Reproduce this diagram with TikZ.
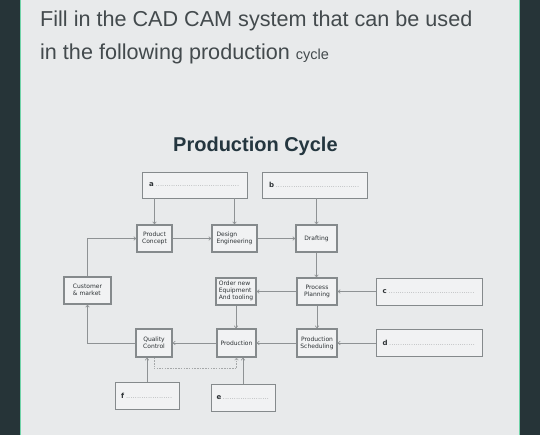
\documentclass[tikz,border=0pt]{standalone}
\usepackage{fontspec}
\setmainfont{Liberation Sans}
\newfontfamily\boxfont{DejaVu Sans}
\usetikzlibrary{arrows.meta}
\definecolor{bg}{HTML}{E8EAEB}
\definecolor{darkside}{HTML}{263438}
\definecolor{mint}{HTML}{6FD3A8}
\definecolor{titlegray}{HTML}{434A4D}
\definecolor{headcol}{HTML}{24363F}
\definecolor{linecol}{HTML}{8E9294}
\definecolor{boxcol}{HTML}{858A8C}
\definecolor{boxtext}{HTML}{2E3336}
\tikzset{
  stagebox/.style={draw=boxcol, line width=1.2pt, fill=bg!60!white, inner sep=0pt,
    font=\boxfont\fontsize{6}{7}\selectfont, text=boxtext, align=center},
  blankbox/.style={draw=boxcol, line width=0.9pt, fill=bg!60!white, inner sep=0pt,
    font=\boxfont\fontsize{6}{7}\selectfont, text=boxtext},
  conn/.style={draw=linecol, line width=0.8pt, -{Straight Barb[length=2.2pt,width=3.6pt,line width=0.6pt]}},
  dashconn/.style={draw=linecol!80, line width=0.6pt, dashed, dash pattern=on 1.5pt off 1.2pt,
    -{Straight Barb[length=2.2pt,width=3.6pt,line width=0.6pt]}}
}
\newcommand{\blank}[2]{\makebox[#1pt][l]{{\fontsize{7}{8}\selectfont\textbf{#2}}\,{\fontsize{5}{6}\selectfont\color{boxtext!70}\dotfill}}}
\begin{document}
\begin{tikzpicture}[x=1pt,y=-1pt]
\useasboundingbox (0,0) rectangle (540,435);
\fill[bg] (0,0) rectangle (540,435);
\fill[darkside] (0,0) rectangle (20,435);
\fill[darkside] (519.5,0) rectangle (540,435);
\draw[mint, line width=0.8pt] (20.2,0) -- (20.2,435);
\draw[mint, line width=0.8pt] (519.3,0) -- (519.3,435);

\node[anchor=base west, text=titlegray, font=\fontsize{21.6}{25}\selectfont, inner sep=0pt] (t1) at (40,27) {Fill in the CAD CAM system that can be used};
\node[anchor=base west, text=titlegray, font=\fontsize{21.6}{25}\selectfont, inner sep=0pt] (t2) at (40,60) {in the following production {\fontsize{14.5}{16}\selectfont cycle}};
\node[anchor=base west, text=headcol, font=\bfseries\fontsize{20}{24}\selectfont, inner sep=0pt] (head) at (173,152) {Production Cycle};

% blank boxes
\node[blankbox, minimum width=105pt, minimum height=26pt] (a) at (194.5,185) {\blank{91}{a}};
\node[blankbox, minimum width=105pt, minimum height=26pt] (b) at (314.5,185) {\blank{91}{b}};
\node[blankbox, minimum width=106pt, minimum height=27pt] (c) at (429,291.5) {\blank{93}{c}};
\node[blankbox, minimum width=106pt, minimum height=27pt] (d) at (429,343) {\blank{93}{d}};
\node[blankbox, minimum width=64pt, minimum height=27pt] (f) at (147,395.5) {\blank{52}{f}};
\node[blankbox, minimum width=64pt, minimum height=27pt] (e) at (243,397.5) {\blank{53}{e}};

% stage boxes
\node[stagebox, minimum width=35pt, minimum height=27pt] (pc) at (154.5,238.5) {Product\\Concept};
\node[stagebox, minimum width=45pt, minimum height=27pt] (de) at (234.5,238.5) {\begin{tabular}{@{}l@{}}Design\\Engineering\end{tabular}};
\node[stagebox, minimum width=41pt, minimum height=27pt] (dr) at (316.5,238.5) {Drafting};
\node[stagebox, minimum width=47pt, minimum height=27pt] (cm) at (87.5,290.5) {\begin{tabular}{@{}l@{}}Customer\\\& market\end{tabular}};
\node[stagebox, minimum width=40pt, minimum height=27pt] (on) at (236,291.5) {\begin{tabular}{@{}l@{}}Order new\\Equipment\\And tooling\end{tabular}};
\node[stagebox, minimum width=40pt, minimum height=27pt] (pp) at (317,291.5) {Process\\Planning};
\node[stagebox, minimum width=36pt, minimum height=28pt] (qc) at (154,343) {Quality\\Control};
\node[stagebox, minimum width=39pt, minimum height=28pt] (pr) at (236.5,343) {Production};
\node[stagebox, minimum width=40pt, minimum height=28pt] (ps) at (317,343) {Production\\Scheduling};

% connectors
\draw[conn] (a.south -| pc.north) -- (pc.north);
\draw[conn] (a.south -| de.north) -- (de.north);
\draw[conn] (b.south -| dr.north) -- (dr.north);
\draw[conn] (pc.east) -- (de.west);
\draw[conn] (de.east) -- (dr.west);
\draw[conn] (cm.north) |- (pc.west);
\draw[conn] (dr.south) -- (dr.south |- pp.north);
\draw[conn] (pp.west) -- (on.east);
\draw[conn] (c.west) -- (pp.east);
\draw[conn] (on.south) -- (on.south |- pr.north);
\draw[conn] (pp.south) -- (ps.north);
\draw[conn] (d.west) -- (ps.east);
\draw[conn] (ps.west) -- (pr.east);
\draw[conn] (pr.west) -- (qc.east);
\draw[conn] (qc.west) -| (cm.south);
\draw[conn] (f.north) -- (f.north |- qc.south);
\draw[conn] (e.north) -- (e.north |- pr.south);
\draw[dashconn] (qc.south) -- ++(0,11) -| (pr.south);
\end{tikzpicture}
\end{document}
